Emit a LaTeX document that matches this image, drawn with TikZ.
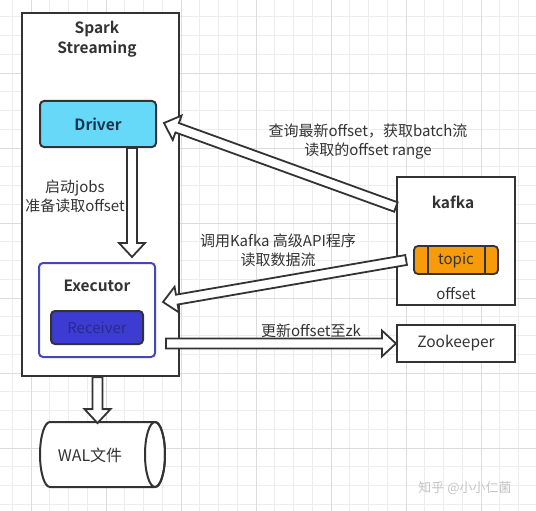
\documentclass[tikz,border=0pt]{standalone}
\usepackage{fontspec}
\setmainfont{Noto Sans CJK SC}[BoldFont={Noto Sans CJK SC Bold}]
\usetikzlibrary{arrows.meta,calc,positioning}
\definecolor{linec}{HTML}{333333}
\definecolor{drivercol}{HTML}{66D9F8}
\definecolor{drivertext}{HTML}{1B3550}
\definecolor{execcol}{HTML}{4646B8}
\definecolor{recvcol}{HTML}{3C3CD2}
\definecolor{recvtext}{HTML}{2A2A8C}
\definecolor{topiccol}{HTML}{F79B0A}
\definecolor{gridminor}{HTML}{EDEDED}
\definecolor{gridmajor}{HTML}{DCDCDC}
\definecolor{markcol}{HTML}{C4C4C4}
\tikzset{
x=1pt, y=-1pt, % one pixel of the sketch is one point
box/.style={draw=linec, line width=2.2pt, fill=white, inner sep=0pt}, % plain boxes
inbox/.style={draw=linec, line width=2pt, rounded corners=4pt, inner sep=0pt}, % boxes inside boxes
label/.style={text=linec, font=\fontsize{15}{19}\selectfont, align=center},
title/.style={text=linec, font=\bfseries\fontsize{15.5}{20}\selectfont, align=center},
hollow/.style={draw=linec, line width=1.8pt, fill=white, line join=miter}, % the fat white arrows
}
% fat hollow arrow from #1 to #2
\newcommand{\hollowarrow}[2]{%
  \coordinate (ha-s) at (#1);
  \coordinate (ha-e) at (#2);
  \coordinate (ha-h) at ($(ha-e)!14pt!(ha-s)$);
  \draw[hollow] ($(ha-s)!5pt!90:(ha-e)$) -- ($(ha-h)!5pt!90:(ha-e)$) -- ($(ha-h)!13pt!90:(ha-e)$) -- (ha-e)
    -- ($(ha-h)!13pt!-90:(ha-e)$) -- ($(ha-h)!5pt!-90:(ha-e)$) -- ($(ha-s)!5pt!-90:(ha-e)$) -- cycle;
}
\begin{document}
\begin{tikzpicture}
		\useasboundingbox (0,0) rectangle (536,511);
		\fill[white] (0,0) rectangle (536,511);
		% background grid
		\foreach \x in {12.25,31,...,536} \draw[gridminor, line width=0.8pt] (\x,0) -- (\x,511);
		\foreach \y in {16.75,35.5,...,511} \draw[gridminor, line width=0.8pt] (0,\y) -- (536,\y);
		\foreach \x in {31,106,...,536} \draw[gridmajor, line width=0.8pt] (\x,0) -- (\x,511);
		\foreach \y in {73,148,...,511} \draw[gridmajor, line width=0.8pt] (0,\y) -- (536,\y);

		\node[box, minimum width=157pt, minimum height=363pt] (spark) at (100.5,194.5) {};
		\node[title] (sparktitle) at (97,39) {Spark\\Streaming};
		\node[inbox, fill=drivercol, minimum width=116pt, minimum height=46pt, text=drivertext, font=\bfseries\fontsize{15.5}{20}\selectfont] (driver) at (98,124) {Driver};
		\node[label] (jobslabel) at (75,196) {启动jobs\\准备读取offset};
		\node[inbox, draw=execcol, fill=white, minimum width=116pt, minimum height=94pt] (executor) at (97,310) {};
		\node[title] (exectitle) at (97,286) {Executor};
		\node[inbox, fill=recvcol, text=recvtext, minimum width=92pt, minimum height=33pt, font=\fontsize{15}{19}\selectfont] (receiver) at (97,327.5) {Receiver};
		% WAL drum
		\draw[linec, line width=2pt, fill=white] (155,422) -- (50,422) arc[start angle=90, end angle=270, x radius=10pt, y radius=32.5pt]
			-- (155,487) arc[start angle=-90, end angle=90, x radius=10pt, y radius=32.5pt] -- cycle;
		\draw[linec, line width=2pt] (155,454.5) ellipse[x radius=10pt, y radius=32.5pt];
		\node[label, font=\fontsize{16}{19}\selectfont] (wal) at (90,455) {WAL文件};

		\node[box, minimum width=118pt, minimum height=128pt] (kafka) at (456,241) {};
		\node[title] (kafkatitle) at (453,202) {kafka};
		\node[inbox, fill=topiccol, line width=1.8pt, minimum width=84pt, minimum height=28pt, font=\fontsize{15}{19}\selectfont, text=linec] (topic) at (456,260) {topic};
		\draw[linec, line width=1.8pt] ($(topic.north west)+(15,0)$) -- ($(topic.south west)+(15,0)$);
		\draw[linec, line width=1.8pt] ($(topic.north east)+(-14,0)$) -- ($(topic.south east)+(-14,0)$);
		\node[label] (offsetlabel) at (456,294) {offset};
		\node[box, minimum width=118pt, minimum height=37pt, font=\fontsize{15.5}{19}\selectfont, text=linec] (zookeeper) at (456,343.5) {Zookeeper};

		\hollowarrow{$(kafka.west)+(0,-34)$}{$(driver.east)+(7,-1)$}
		\hollowarrow{$(topic.west)+(-7,0)$}{$(executor.east)+(7,-8)$}
		\hollowarrow{$(executor.east |- zookeeper.west)+(10,0)$}{zookeeper.west}
		\hollowarrow{$(driver.south)+(34,0)$}{$(executor.north)+(35,-5)$}
		\hollowarrow{$(spark.south)+(-3,0)$}{$(spark.south)+(-3,46)$}

		\node[label] (querylabel) at (368,142) {查询最新offset，获取batch流\\读取的offset range};
		\node[label] (readlabel) at (278,250) {调用Kafka 高级API程序\\读取数据流};
		\node[label] (zklabel) at (311,331) {更新offset至zk};
		\node[text=markcol, font=\fontsize{13}{16}\selectfont] (mark) at (465,488) {知乎 @小小仁菌};
	\end{tikzpicture}
\end{document}
